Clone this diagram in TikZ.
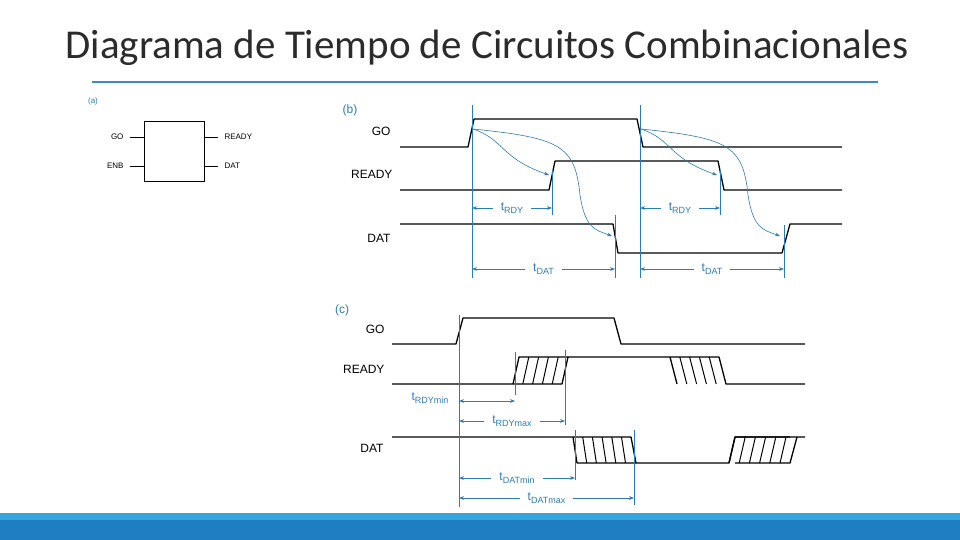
\documentclass[tikz,border=0pt]{standalone}
\usepackage{fontspec}
\setmainfont{Liberation Sans}
\newfontfamily\titlefont{Carlito}
\usetikzlibrary{arrows.meta}
\definecolor{anno}{HTML}{2E7DB0}
\definecolor{rule}{HTML}{3A8CC6}
\definecolor{barA}{HTML}{33A6DE}
\definecolor{barB}{HTML}{1F7EC2}
\definecolor{ttl}{HTML}{2B2B2B}
\begin{document}
\begin{tikzpicture}[x=1pt,y=-1pt,
  sig/.style={line width=1.3pt,line join=round},
  vl/.style={anno,line width=0.6pt},
  dim/.style={anno,line width=0.6pt,{Stealth[length=5pt]}-{Stealth[length=5pt]}},
  dl/.style={fill=white,inner xsep=8pt,inner ysep=1pt,text=anno,font=\fontsize{12}{12}\selectfont},
  lab/.style={anchor=east,font=\fontsize{12}{12}\selectfont},
  slab/.style={font=\fontsize{8}{8}\selectfont},
  cur/.style={anno,line width=0.6pt,-{Stealth[length=5pt]}},
  hat/.style={line width=1pt}]
\useasboundingbox (0,0) rectangle (960,540);
\node[text=ttl] (title) at (487,48) {\titlefont\fontsize{41}{41}\selectfont Diagrama de Tiempo de Circuitos Combinacionales};
\draw[rule,line width=2.5pt] (92,82) -- (878,82);
\fill[barB] (0,513) rectangle (960,540);
\fill[barA] (0,513) rectangle (960,520);
% (a)
\node[anno,slab] (la) at (93,101) {(a)};
\node[draw,line width=0.8pt,minimum width=60pt,minimum height=60pt,inner sep=0] (box) at (174,151) {};
\draw (130,137) -- (144,137) (130,166) -- (144,166) (204,137) -- (218,137) (204,166) -- (218,166);
\node[slab,anchor=east] (ago) at (127,137) {GO};
\node[slab,anchor=east] (aen) at (127,166) {ENB};
\node[slab,anchor=west] (ard) at (221,137) {READY};
\node[slab,anchor=west] (adt) at (221,166) {DAT};
% (b)
\node[anno,font=\fontsize{12}{12}\selectfont] (lb) at (350,110) {(b)};
\node[lab] (bgo) at (394,131) {GO};
\node[lab] (brd) at (396,174) {READY};
\node[lab] (bdt) at (394,238) {DAT};
\draw[sig] (400,147) -- (468,147) -- (474,119) -- (637,119) -- (643,147) -- (842,147);
\draw[sig] (400,190) -- (549,190) -- (555,161) -- (718,161) -- (724,190) -- (842,190);
\draw[sig] (400,224) -- (613,224) -- (618,253) -- (782,253) -- (790,224) -- (842,224);
\draw[vl] (472,105) -- (472,278) (552,170) -- (552,215) (615,215) -- (615,278)
  (640,105) -- (640,278) (720,170) -- (720,215) (784,225) -- (784,278);
\draw[dim] (472,208) -- node[dl]{t\raisebox{-3pt}{\small RDY}} (552,208);
\draw[dim] (640,208) -- node[dl]{t\raisebox{-3pt}{\small RDY}} (720,208);
\draw[dim] (472,269) -- node[dl]{t\raisebox{-3pt}{\small DAT}} (615,269);
\draw[dim] (640,269) -- node[dl]{t\raisebox{-3pt}{\small DAT}} (784,269);
\foreach \d in {0,168}{
  \draw[cur] (473+\d,129) .. controls (505+\d,140) and (500+\d,158) .. (549+\d,175);
  \draw[cur] (473+\d,129) .. controls (560+\d,138) and (575+\d,145) .. (580+\d,195)
     .. controls (585+\d,228) and (595+\d,230) .. (612+\d,236);
}
% (c)
\node[anno,font=\fontsize{12}{12}\selectfont] (lc) at (342,310) {(c)};
\node[lab] (cgo) at (388,329) {GO};
\node[lab] (crd) at (388,369) {READY};
\node[lab] (cdt) at (387,448) {DAT};
\draw[sig] (392,344) -- (456,344) -- (463,318) -- (614,318) -- (621,344) -- (805,344);
\draw[sig] (392,384) -- (562,384) -- (568,357) -- (719,357) -- (726,384) -- (805,384);
\draw[sig] (513,384) -- (519,357) -- (568,357);
\foreach \i in {1,...,4} \draw[hat] (513+\i*9.8,384) -- (519+\i*9.8,357);
\draw[sig] (670,357) -- (677,384);
\foreach \i in {1,...,4} \draw[hat] (670+\i*9.8,357) -- (677+\i*9.8,384);
\draw[sig] (392,437) -- (631,437) -- (636,463) -- (729,463) -- (735,437) -- (805,437);
\draw[sig] (573,437) -- (577,463) -- (636,463);
\foreach \i in {1,...,5} \draw[hat] (573+\i*9.7,437) -- (577+\i*9.7,463);
\draw[sig] (729,463) -- (735,437) -- (790,437) (735,463) -- (790,463) -- (797,437);
\foreach \i in {1,...,5} \draw[hat] (729+\i*10.2,463) -- (735+\i*10.2,437);
\draw[vl] (459,315) -- (459,507) (515,352) -- (515,395) (565,350) -- (565,425)
  (575,430) -- (575,480) (634,430) -- (634,505);
\draw[dim] (459,401) -- (515,401);
\node[text=anno,font=\fontsize{12}{12}\selectfont] (trmin) at (430,398) {t\raisebox{-3pt}{\small RDYmin}};
\draw[dim] (459,421) -- node[dl]{t\raisebox{-3pt}{\small RDYmax}} (565,421);
\draw[dim] (459,478) -- node[dl]{t\raisebox{-3pt}{\small DATmin}} (575,478);
\draw[dim] (459,498) -- node[dl]{t\raisebox{-3pt}{\small DATmax}} (634,498);
\end{tikzpicture}
\end{document}
